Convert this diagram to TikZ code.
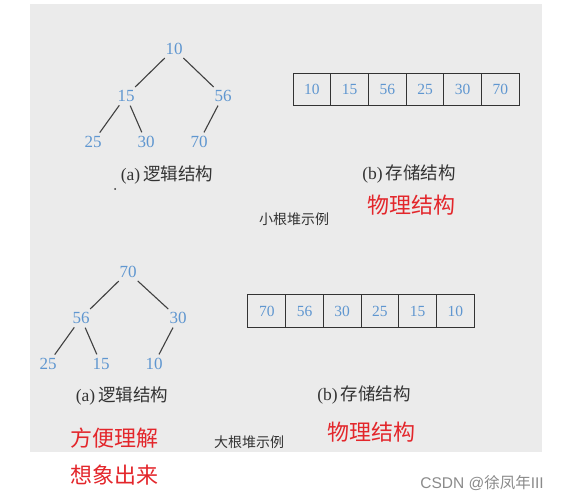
\documentclass[tikz,border=0pt]{standalone}
\usepackage{fontspec}
\setmainfont{Liberation Serif}
\setsansfont{Liberation Sans}
\newfontfamily\cjk{Noto Sans CJK SC}
\usetikzlibrary{positioning}

\definecolor{keyblue}{HTML}{5F96D0}
\definecolor{panelgray}{HTML}{EBEBEB}
\definecolor{notered}{HTML}{E3262B}
\definecolor{capgray}{HTML}{333333}
\definecolor{markgray}{HTML}{8A8A8A}

\tikzset{
  key/.style={text=keyblue, inner sep=1pt, font=\fontsize{17}{17}\selectfont},
  cell/.style={draw=black!80, line width=1pt, outer sep=0pt, inner sep=0pt,
    minimum width=37.7pt, minimum height=32.5pt, text=keyblue,
    font=\fontsize{15.5}{16}\selectfont},
  caption/.style={text=capgray, inner sep=0pt, font=\fontsize{17.5}{18}\selectfont},
  heapname/.style={text=capgray, inner sep=0pt, font=\cjk\fontsize{14}{14}\selectfont},
  note/.style={text=notered, inner sep=0pt, font=\cjk\fontsize{22}{22}\selectfont},
  branch/.style={draw=black!75, line width=1.1pt, shorten <=3pt, shorten >=3pt}
}

\begin{document}
\begin{tikzpicture}[x=1pt,y=-1pt]

\useasboundingbox (0,0) rectangle (561,502);
\fill[panelgray] (30,4) rectangle (542,452); % grey panel

% small root heap: tree
\node[key] (t10) at (174,49) {10};
\node[key] (t15) at (126,96) {15};
\node[key] (t56) at (223,96) {56};
\node[key] (t25) at (93,142) {25};
\node[key] (t30) at (146,142) {30};
\node[key] (t70) at (199,142) {70};
\draw[branch] (t10) -- (t15);
\draw[branch] (t10) -- (t56);
\draw[branch] (t15) -- (t25);
\draw[branch] (t15) -- (t30);
\draw[branch] (t56) -- (t70);

% small root heap: array
\node[cell] (ta1) at (311.9,89.3) {10};
\node[cell, right=0pt of ta1] (ta2) {15};
\node[cell, right=0pt of ta2] (ta3) {56};
\node[cell, right=0pt of ta3] (ta4) {25};
\node[cell, right=0pt of ta4] (ta5) {30};
\node[cell, right=0pt of ta5] (ta6) {70};

\node[caption] (tcapa) at (167,175) {(a)\,{\cjk 逻辑结构}};
\node[caption] (tcapb) at (409,174) {(b)\,{\cjk 存储结构}};
\node[note] (tphys) at (411,205) {物理结构};
\node[heapname] (tname) at (294,219) {小根堆示例};
\fill[black!80] (115,189) circle (1pt);

% big root heap: tree
\node[key] (b70) at (128,272) {70};
\node[key] (b56) at (81,318) {56};
\node[key] (b30) at (178,318) {30};
\node[key] (b25) at (48,364) {25};
\node[key] (b15) at (101,364) {15};
\node[key] (b10) at (154,364) {10};
\draw[branch] (b70) -- (b56);
\draw[branch] (b70) -- (b30);
\draw[branch] (b56) -- (b25);
\draw[branch] (b56) -- (b15);
\draw[branch] (b30) -- (b10);

% big root heap: array
\node[cell] (ba1) at (266.8,311) {70};
\node[cell, right=0pt of ba1] (ba2) {56};
\node[cell, right=0pt of ba2] (ba3) {30};
\node[cell, right=0pt of ba3] (ba4) {25};
\node[cell, right=0pt of ba4] (ba5) {15};
\node[cell, right=0pt of ba5] (ba6) {10};

\node[caption] (bcapa) at (122,396) {(a)\,{\cjk 逻辑结构}};
\node[caption] (bcapb) at (364,395) {(b)\,{\cjk 存储结构}};
\node[note] (bphys) at (371,432) {物理结构};
\node[heapname] (bname) at (249,442) {大根堆示例};

% notes below
\node[note] (easy) at (114,438) {方便理解};
\node[note] (imagine) at (114,475) {想象出来};
\node[text=markgray, inner sep=0pt, font=\sffamily\fontsize{15.5}{16}\selectfont] (mark) at (482,483) {CSDN @{\cjk 徐凤年}III};

\end{tikzpicture}
\end{document}
